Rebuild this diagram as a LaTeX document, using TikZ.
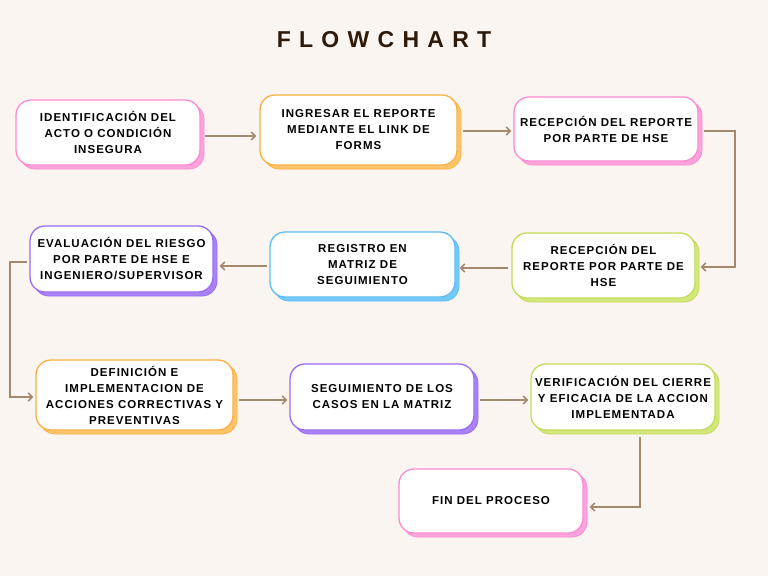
\documentclass[tikz,border=0pt]{standalone}
\usepackage{fontspec}
\setmainfont{Liberation Sans}
\newfontfamily\boxfont[LetterSpace=9]{Liberation Sans}
\newfontfamily\titlefont[LetterSpace=36]{Liberation Sans}
\usetikzlibrary{shadows,arrows.meta}
\definecolor{bg}{HTML}{FAF5F0}
\definecolor{pinkB}{HTML}{FB8BD3}
\definecolor{pinkS}{HTML}{FCA3DC}
\definecolor{orangeB}{HTML}{FBB040}
\definecolor{orangeS}{HTML}{FDC46C}
\definecolor{greenB}{HTML}{C3DC57}
\definecolor{greenS}{HTML}{D3E77D}
\definecolor{blueB}{HTML}{5BBDF6}
\definecolor{blueS}{HTML}{75C9F8}
\definecolor{purpleB}{HTML}{9B6CF6}
\definecolor{purpleS}{HTML}{A982F7}
\definecolor{arrowc}{HTML}{A38A6F}
\definecolor{titlec}{HTML}{2E1A0B}
\tikzset{
  card/.style args={#1/#2}{draw=#1, fill=white, line width=1.3pt, rounded corners=15pt,
    general shadow={shadow xshift=4pt, shadow yshift=-4pt, fill=#2, draw=#1, line width=0.8pt},
    align=center, font=\boxfont\bfseries\fontsize{11.5}{16}\selectfont, text=black, inner sep=0pt},
  pinkcard/.style={card=pinkB/pinkS},
  orangecard/.style={card=orangeB/orangeS},
  greencard/.style={card=greenB/greenS},
  bluecard/.style={card=blueB/blueS},
  purplecard/.style={card=purpleB/purpleS},
  conn/.style={draw=arrowc, line width=2.2pt, -{Straight Barb[length=4pt,width=8pt,line width=1.6pt]}}
}
\begin{document}
\begin{tikzpicture}[x=1pt,y=-1pt]
\fill[bg] (0,0) rectangle (768,576);
\useasboundingbox (0,0) rectangle (768,576);
\node[font=\titlefont\bfseries\fontsize{23}{26}\selectfont, text=titlec] (title) at (384,40) {FLOWCHART};

\node[pinkcard, minimum width=184pt, minimum height=65pt] (b1) at (108,132.5) {IDENTIFICACIÓN DEL\\ACTO O CONDICIÓN\\INSEGURA};
\node[orangecard, minimum width=197pt, minimum height=70pt] (b2) at (358.5,130) {INGRESAR EL REPORTE\\MEDIANTE EL LINK DE\\FORMS};
\node[pinkcard, minimum width=184pt, minimum height=64pt] (b3) at (606,129) {RECEPCIÓN DEL REPORTE\\POR PARTE DE HSE};
\node[greencard, minimum width=183pt, minimum height=65pt] (b4) at (603.5,265.5) {RECEPCIÓN DEL\\REPORTE POR PARTE DE\\HSE};
\node[bluecard, minimum width=185pt, minimum height=65pt] (b5) at (362.5,264.5) {REGISTRO EN\\MATRIZ DE\\SEGUIMIENTO};
\node[purplecard, minimum width=183pt, minimum height=66pt] (b6) at (121.5,259) {EVALUACIÓN DEL RIESGO\\POR PARTE DE HSE E\\INGENIERO/SUPERVISOR};
\node[orangecard, minimum width=197pt, minimum height=70pt] (b7) at (134.5,395) {DEFINICIÓN E\\IMPLEMENTACION DE\\ACCIONES CORRECTIVAS Y\\PREVENTIVAS};
\node[purplecard, minimum width=184pt, minimum height=66pt] (b8) at (382,397) {SEGUIMIENTO DE LOS\\CASOS EN LA MATRIZ};
\node[greencard, minimum width=184pt, minimum height=66pt] (b9) at (623,397) {VERIFICACIÓN DEL CIERRE\\Y EFICACIA DE LA ACCION\\IMPLEMENTADA};
\node[pinkcard, minimum width=184pt, minimum height=64pt] (b10) at (491,501) {FIN DEL PROCESO};

\coordinate (c1) at (735,0);
\coordinate (c2) at (10,0);
\coordinate (c3) at (640,0);

\draw[conn] ([xshift=4pt,yshift=-3.5pt]b1.east) -- ([xshift=-3pt,yshift=-3.5pt]b1.east -| b2.west);
\draw[conn] ([xshift=5pt,yshift=-1pt]b2.east) -- ([xshift=-2pt,yshift=-1pt]b2.east -| b3.west);
\draw[conn] ([xshift=5pt,yshift=-2pt]b3.east) -| ([yshift=-1.5pt]c1 |- b4.east) -- ([xshift=5pt,yshift=-1.5pt]b4.east);
\draw[conn] ([xshift=-3pt,yshift=-2.5pt]b4.west) -- ([xshift=4pt,yshift=-2.5pt]b4.west -| b5.east);
\draw[conn] ([xshift=-2pt,yshift=-1.5pt]b5.west) -- ([xshift=6pt,yshift=-1.5pt]b5.west -| b6.east);
\draw[conn] ([xshift=-2pt,yshift=-3pt]b6.west) -| ([yshift=-2pt]c2 |- b7.west) -- ([xshift=-2pt,yshift=-2pt]b7.west);
\draw[conn] ([xshift=5pt,yshift=-5pt]b7.east) -- ([xshift=-2pt,yshift=-5pt]b7.east -| b8.west);
\draw[conn] ([xshift=5pt,yshift=-3pt]b8.east) -- ([xshift=-2pt,yshift=-3pt]b8.east -| b9.west);
\draw[conn] (c3 |- b9.south) ++(0,6) -- ([yshift=-6pt]c3 |- b10.east) -- ([xshift=6pt,yshift=-6pt]b10.east);
\end{tikzpicture}
\end{document}
